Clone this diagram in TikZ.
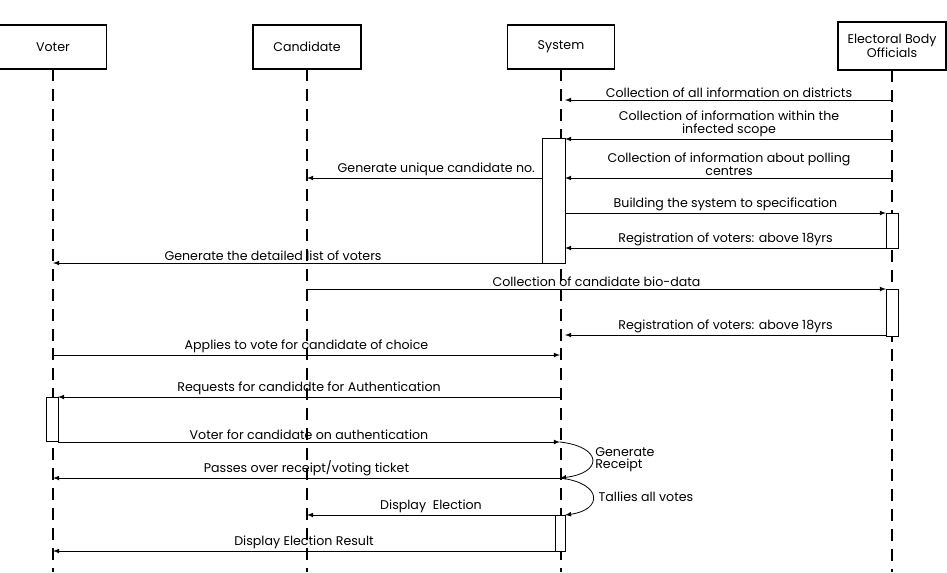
\documentclass[tikz,border=0pt]{standalone}
\usepackage{fontspec}
\setmainfont{Poppins}
\usetikzlibrary{arrows}

\begin{document}
\begin{tikzpicture}[x=0.02646cm, y=-0.02646cm, >=latex, thick]
    \tikzstyle{actor}=[rectangle, draw, thick, minimum height=44*0.02646cm,
                       font=\fontsize{9.5}{10}\selectfont, align=center]
    \tikzstyle{life}=[thick, dash pattern=on 9pt off 6pt]
    \tikzstyle{msg}=[->, semithick]
    \tikzstyle{lbl}=[above, inner sep=1.5pt, font=\fontsize{9.5}{9.5}\selectfont, align=center]
    \tikzstyle{act}=[draw, semithick, fill=white]
    \useasboundingbox (0,0) rectangle (947,572);

    \node[actor, minimum width=107*0.02646cm] (V) at (53,47)  {Voter};
    \node[actor, minimum width=108*0.02646cm] (C) at (307,47) {Candidate};
    \node[actor, minimum width=107*0.02646cm] (S) at (561,47) {System};
    \node[actor, minimum width=108*0.02646cm, minimum height=48*0.02646cm, inner sep=0pt]
          (E) at (892,46) {Electoral Body\\ Officials};

    % lifelines
    \foreach \n in {V,C,S,E}
        \draw[life] (\n.south) -- (\n.south |- 0,572);

    % activations
    \draw[act] (542,138) rectangle (565,263);
    \draw[act] (886,213) rectangle (898,248);
    \draw[act] (886,289) rectangle (898,336);
    \draw[act] (46,397) rectangle (58,441);
    \draw[act] (555,515) rectangle (565,551);

    % message ends
    \foreach \n/\x in {V/53, Va/58, C/307, Sl/542, S/560, Sr/565, E/893, El/886}
        \foreach \y in {100,139,178,213,248,263,289,335,355,397,442,478,515,551}
            \coordinate (\n\y) at (\x,\y);

    \draw[msg] (E100) -- node[lbl]{Collection of all information on districts} (Sr100);
    \draw[msg] (E139) -- node[lbl]{Collection of information within the\\ infected scope} (Sr139);
    \draw[msg] (E178) -- node[lbl]{Collection of information about polling\\ centres} (Sr178);
    \draw[msg] (Sl178) -- node[lbl, pos=0.45]{Generate unique candidate no.} (C178);
    \draw[msg] (Sr213) -- node[lbl]{Building the system to specification} (El213);
    \draw[msg] (El248) -- node[lbl]{Registration of voters: above 18yrs} (Sr248);
    \draw[msg] (Sl263) -- node[lbl, pos=0.55]{Generate the detailed list of voters} (V263);
    \draw[msg] (C289) -- node[lbl]{Collection of candidate bio-data} (El289);
    \draw[msg] (El335) -- node[lbl]{Registration of voters: above 18yrs} (Sr335);
    \draw[msg] (V355) -- node[lbl]{Applies to vote for candidate of choice} (S355);
    \draw[msg] (S397) -- node[lbl]{Requests for candiddte for Authentication} (Va397);
    \draw[msg] (Va442) -- node[lbl]{Voter for candidate on authentication} (S442);
    \draw[msg] (S442) .. controls (603,447) and (603,473) .. node[right, inner sep=2pt,
          font=\fontsize{9.5}{9}\selectfont, align=left]{Generate\\ Receipt} (S478);
    \draw[msg] (S478) -- node[lbl]{Passes over receipt/voting ticket} (V478);
    \draw[msg] (S478) .. controls (603,483) and (603,510) .. node[right, inner sep=4pt,
          font=\fontsize{9.5}{10}\selectfont]{Tallies all votes} (Sr515);
    \draw[msg] (Sl515) ++(13,0) coordinate (Sa515) (Sa515) -- node[lbl]{Display\ \ Election} (C515);
    \draw[msg] (Sa515 |- 0,551) coordinate (Sa551) (Sa551) -- node[lbl]{Display Election Result} (V551);
\end{tikzpicture}
\end{document}
